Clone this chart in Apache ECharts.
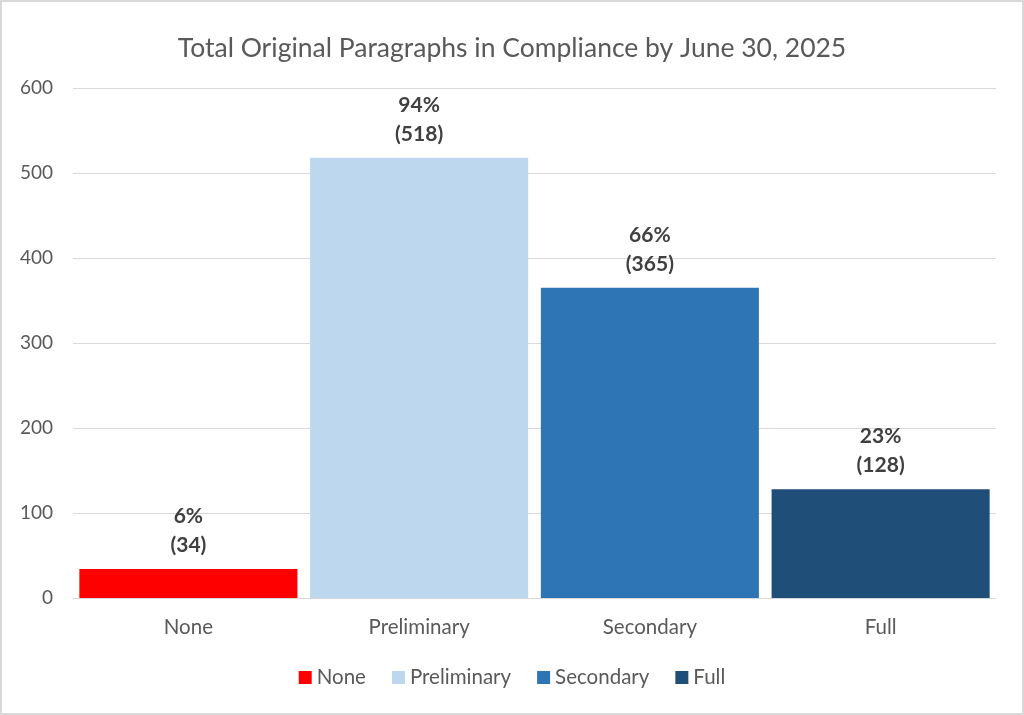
<!DOCTYPE html>
<html><head><meta charset="utf-8">
<script src="https://cdn.jsdelivr.net/npm/echarts@6/dist/echarts.min.js"></script>
<style>html,body{margin:0;padding:0;background:#fff}#c{width:1024px;height:715px;box-sizing:border-box;border:2px solid #d9d9d9}</style>
</head><body><div id="c"></div>
<script>
const categories = ['None', 'Preliminary', 'Secondary', 'Full'];
const values = [34, 518, 365, 128];
const percents = [6, 94, 66, 23];
const colors = ['#ff0000', '#bdd7ee', '#2e75b6', '#1f4e79'];
const yTicks = {min: 0, max: 600, interval: 100};

const font = 'Lato';
const chart = echarts.init(document.getElementById('c'));
const series = categories.map((name, i) => ({
  name: name,
  type: 'bar',
  stack: 'all',
  barCategoryGap: '5.5%',
  itemStyle: {color: colors[i]},
  data: categories.map((c, j) => j === i ? values[i] : null),
  label: {
    show: true, position: 'top', distance: 9,
    formatter: () => percents[i] + '%\n(' + values[i] + ')',
    fontFamily: font, fontWeight: 'bold', fontSize: 21, lineHeight: 29, color: '#404040'
  }
}));
chart.setOption({
  animation: false,
  title: {text: 'Total Original Paragraphs in Compliance by June 30, 2025', left: 'center', top: 28,
    textStyle: {fontFamily: font, fontWeight: 'normal', fontSize: 26.5, color: '#595959'}},
  grid: {left: 71, right: 26, top: 86, bottom: 115},
  legend: {bottom: 20, left: 'center', icon: 'rect', itemWidth: 13, itemHeight: 13, itemGap: 26,
    textStyle: {fontFamily: font, fontSize: 20.5, color: '#595959'}, data: categories},
  xAxis: {type: 'category', data: categories,
    axisLine: {lineStyle: {color: '#d9d9d9'}}, axisTick: {show: false},
    axisLabel: {fontFamily: font, fontSize: 20.5, color: '#595959', margin: 19}},
  yAxis: {type: 'value', min: yTicks.min, max: yTicks.max, interval: yTicks.interval,
    splitLine: {lineStyle: {color: '#d9d9d9'}},
    axisLabel: {fontFamily: font, fontSize: 19, color: '#595959', margin: 20}},
  series: series
});
</script></body></html>
